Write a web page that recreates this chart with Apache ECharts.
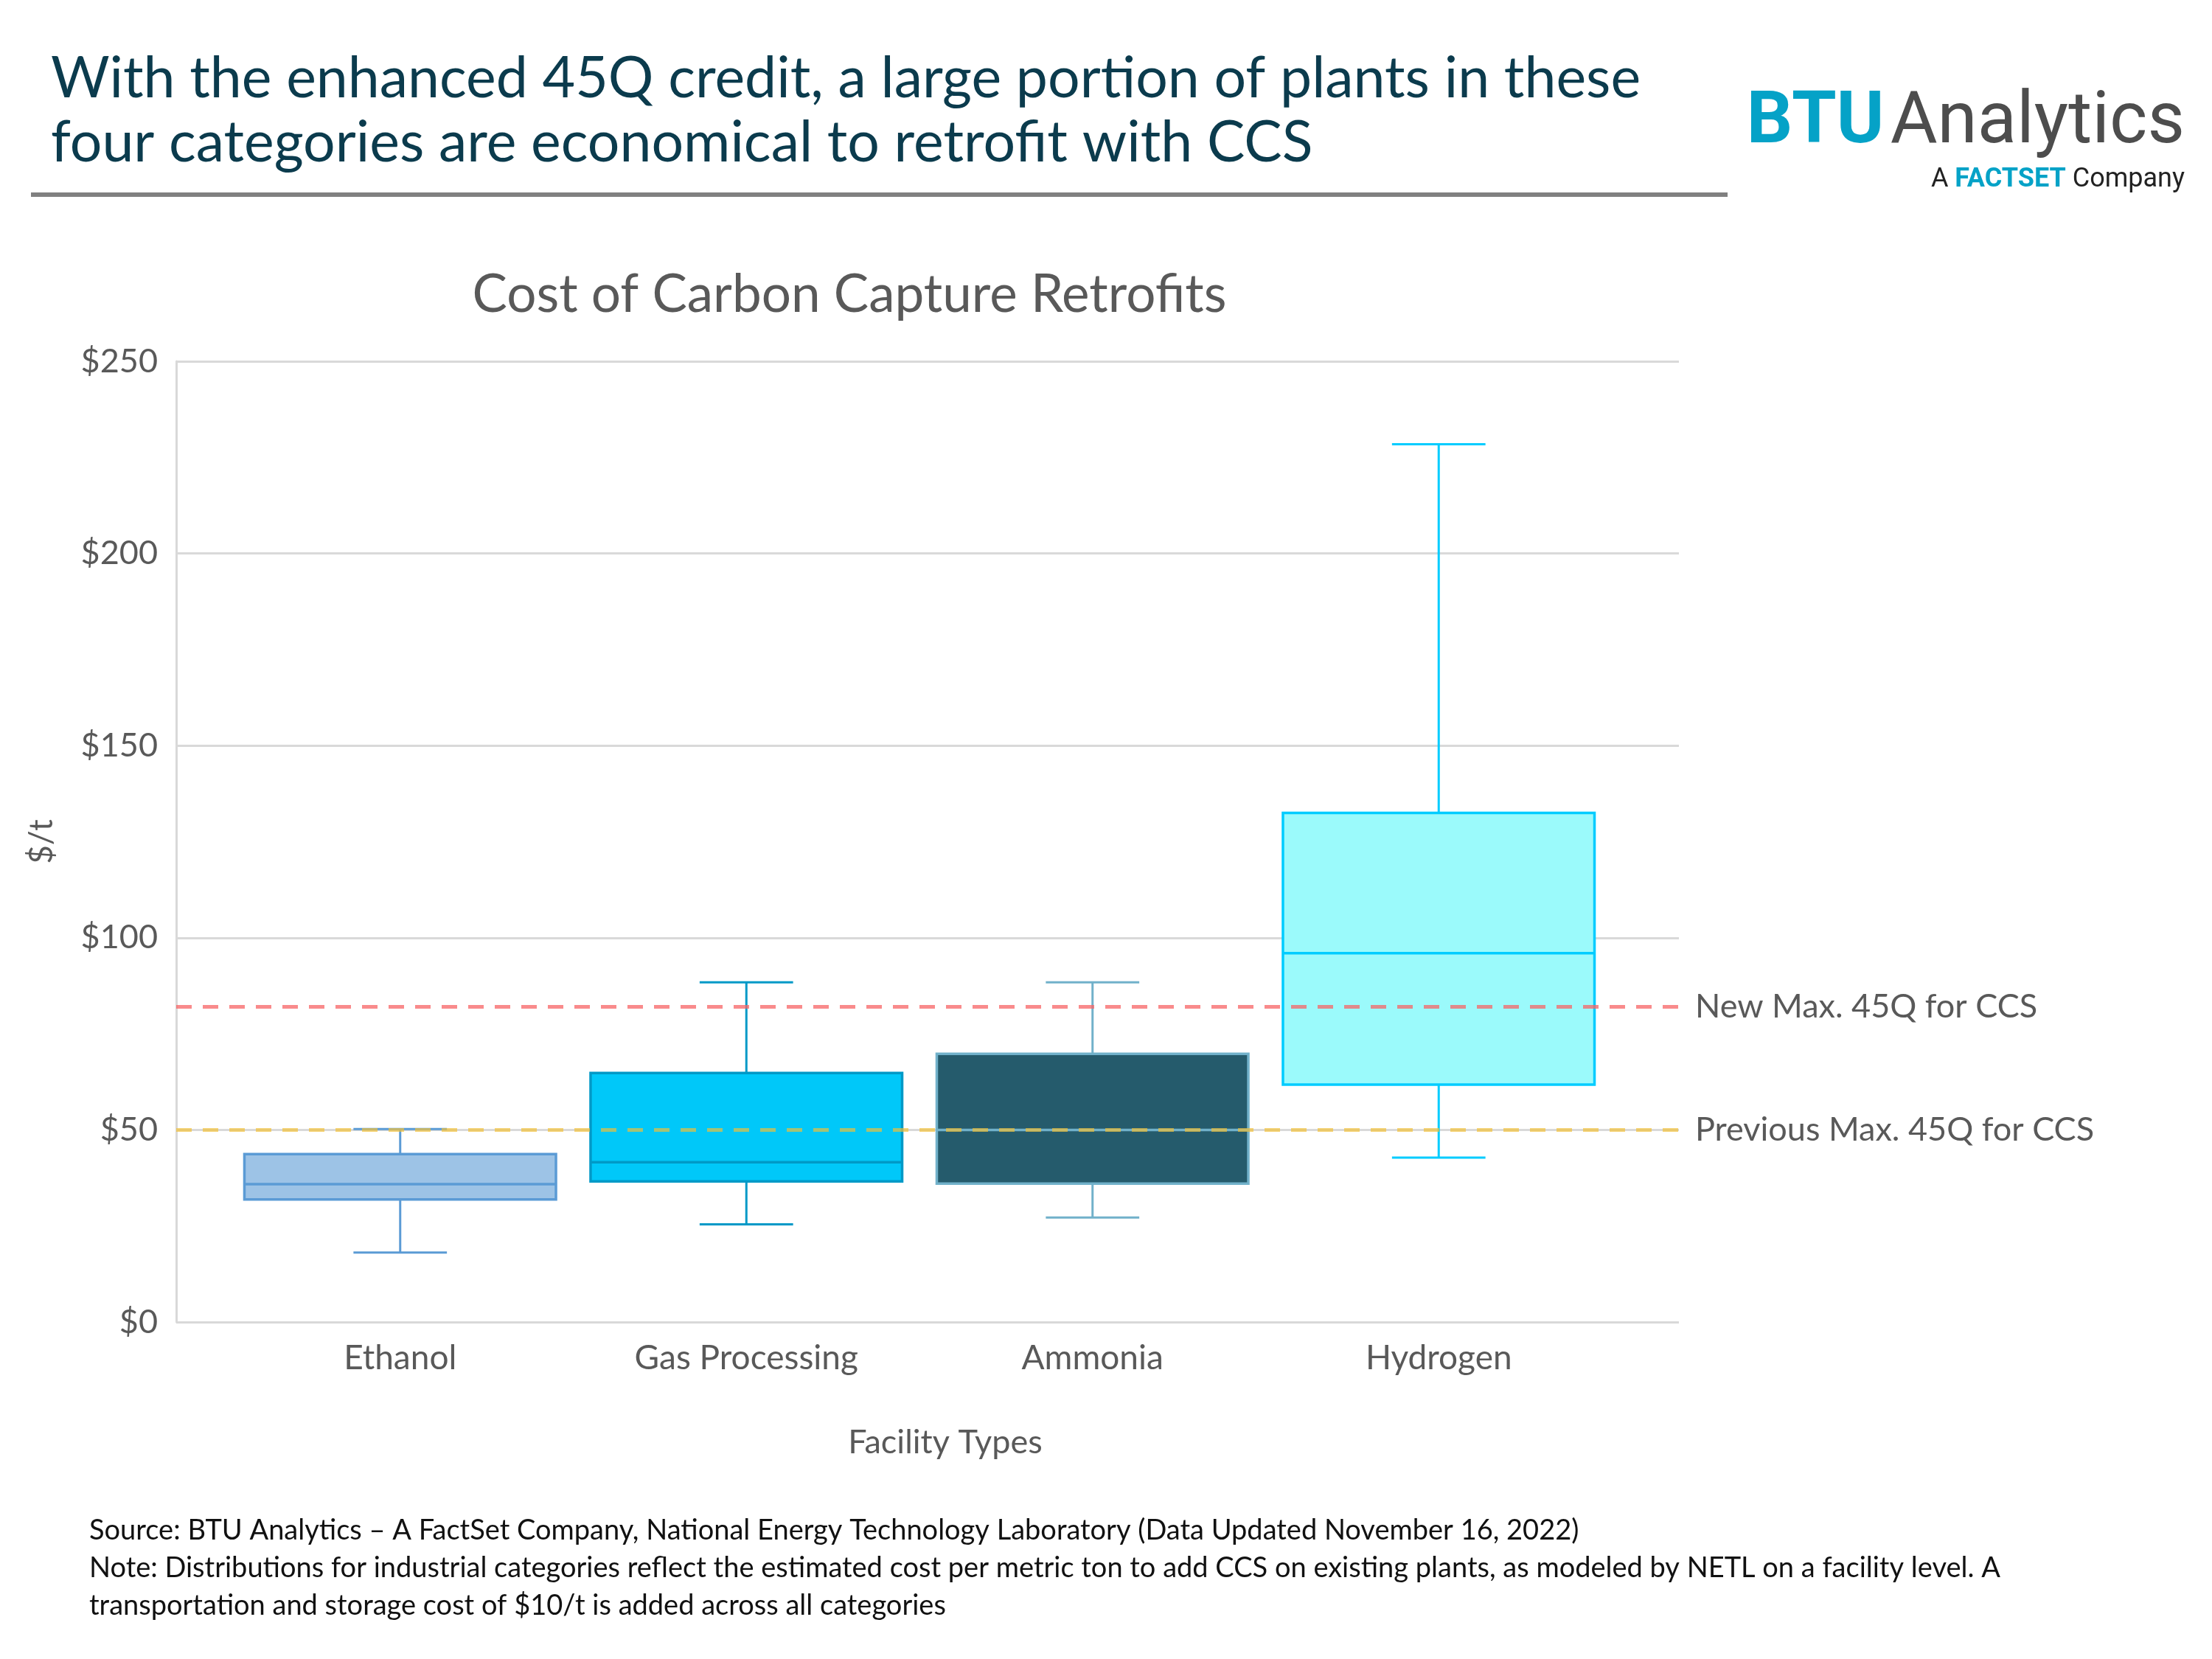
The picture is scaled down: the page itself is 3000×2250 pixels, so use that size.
<!DOCTYPE html>
<html>
<head>
<meta charset="utf-8">
<title>Cost of Carbon Capture Retrofits</title>
<script src="https://cdn.jsdelivr.net/npm/echarts@6/dist/echarts.min.js"></script>
<style>
  html, body { margin: 0; padding: 0; background: #fff; }
  #chart { width: 3000px; height: 2250px; }
</style>
</head>
<body>
<div id="chart"></div>
<script>
// facility types and the box statistics ($/t)
const categories = ['Ethanol', 'Gas Processing', 'Ammonia', 'Hydrogen'];
const mins = [18.1, 25.4, 27.2, 42.8];
const q1s = [31.9, 36.6, 36.0, 61.8];
const medians = [35.9, 41.6, 50.0, 96.0];
const q3s = [43.7, 64.8, 69.8, 132.5];
const maxs = [50.2, 88.4, 88.4, 228.4];

// 45Q reference levels
const thresholdNames = ['New Max. 45Q for CCS', 'Previous Max. 45Q for CCS'];
const thresholdValues = [82, 50];

const yMin = 0;
const yMax = 250;
const yStep = 50;

const FONT = 'Lato';
const GREY = '#595959';

// fill / border per box
const boxColors = [
  { fill: '#9dc3e6', border: '#5b9bd5' },
  { fill: '#00c8f9', border: '#0099c7' },
  { fill: '#255b6c', border: '#71b1ca' },
  { fill: '#9bfafb', border: '#00ccff' }
];
const lineColors = ['rgba(247,100,102,0.75)', 'rgba(242,192,55,0.68)'];

const boxData = categories.map((c, i) => [i, mins[i], q1s[i], medians[i], q3s[i], maxs[i]]);

function renderBox(params, api) {
  const i = api.value(0);
  const band = api.size([1, 0])[0];
  const boxW = band * 0.9;
  const capW = band * 0.27;
  const x = api.coord([i, 0])[0];
  const y = v => api.coord([i, api.value(v)])[1];
  const yLo = y(1), yQ1 = y(2), yMed = y(3), yQ3 = y(4), yHi = y(5);
  const col = boxColors[i];
  const thin = { stroke: col.border, lineWidth: 3 };
  const thick = { stroke: col.border, lineWidth: 3.5 };
  return {
    type: 'group',
    children: [
      { type: 'line', shape: { x1: x, y1: yQ3, x2: x, y2: yHi }, style: thin },
      { type: 'line', shape: { x1: x, y1: yQ1, x2: x, y2: yLo }, style: thin },
      { type: 'line', shape: { x1: x - capW / 2, y1: yHi, x2: x + capW / 2, y2: yHi }, style: thin },
      { type: 'line', shape: { x1: x - capW / 2, y1: yLo, x2: x + capW / 2, y2: yLo }, style: thin },
      { type: 'rect', shape: { x: x - boxW / 2, y: yQ3, width: boxW, height: yQ1 - yQ3 },
        style: { fill: col.fill, stroke: col.border, lineWidth: 3.5 } },
      { type: 'line', shape: { x1: x - boxW / 2, y1: yMed, x2: x + boxW / 2, y2: yMed }, style: thick }
    ]
  };
}

const chart = echarts.init(document.getElementById('chart'), null, { renderer: 'canvas' });

const option = {
  backgroundColor: '#fff',
  animation: false,
  textStyle: { fontFamily: FONT },
  title: [
    {
      text: 'With the enhanced 45Q credit, a large portion of plants in these\nfour categories are economical to retrofit with CCS',
      left: 69,
      top: 64,
      padding: 0,
      textStyle: { fontFamily: FONT, fontSize: 77, fontWeight: 'normal', color: '#0b3b4d', lineHeight: 87 }
    },
    {
      text: 'Cost of Carbon Capture Retrofits',
      left: 1152,
      textAlign: 'center',
      top: 360,
      padding: 0,
      textStyle: { fontFamily: FONT, fontSize: 71, fontWeight: 'normal', color: GREY, lineHeight: 80 }
    }
  ],
  grid: [
    { left: 239, right: 723, top: 490, bottom: 457 },
    { left: 308, right: 814, top: 490, bottom: 457 }
  ],
  xAxis: [
    {
      gridIndex: 0,
      type: 'category',
      data: categories,
      name: 'Facility Types',
      nameLocation: 'middle',
      nameGap: 141,
      nameTextStyle: { fontFamily: FONT, fontSize: 45, color: GREY, padding: [0, 0, 0, 48] },
      axisLine: { show: false },
      axisTick: { show: false },
      axisLabel: { show: false },
      splitLine: { show: false }
    },
    {
      gridIndex: 1,
      type: 'category',
      data: categories,
      axisLine: { show: false },
      axisTick: { show: false },
      axisLabel: { fontFamily: FONT, fontSize: 46, color: GREY, margin: 26 },
      splitLine: { show: false }
    }
  ],
  yAxis: [
    {
      gridIndex: 0,
      type: 'value',
      min: yMin,
      max: yMax,
      interval: yStep,
      name: '$/t',
      nameLocation: 'middle',
      nameGap: 160,
      nameRotate: 90,
      nameTextStyle: { fontFamily: FONT, fontSize: 44, color: GREY },
      axisLine: { show: true, lineStyle: { color: '#d9d9d9', width: 3 } },
      axisTick: { show: false },
      axisLabel: { fontFamily: FONT, fontSize: 45, color: GREY, margin: 25, formatter: v => '$' + v },
      splitLine: { lineStyle: { color: '#d9d9d9', width: 3 } }
    },
    {
      gridIndex: 1,
      type: 'value',
      min: yMin,
      max: yMax,
      interval: yStep,
      show: false
    }
  ],
  series: [
    {
      name: 'Retrofit cost',
      type: 'custom',
      xAxisIndex: 1,
      yAxisIndex: 1,
      z: 2,
      renderItem: renderBox,
      encode: { x: 0, y: [1, 2, 3, 4, 5] },
      data: boxData
    },
    {
      name: '45Q',
      type: 'line',
      xAxisIndex: 0,
      yAxisIndex: 0,
      z: 5,
      data: [],
      markLine: {
        silent: true,
        symbol: 'none',
        z: 5,
        data: thresholdValues.map((v, i) => ({
          yAxis: v,
          lineStyle: { color: lineColors[i], width: 5, type: [21, 15] },
          label: {
            show: true,
            position: 'end',
            distance: 22,
            formatter: thresholdNames[i],
            fontFamily: FONT,
            fontSize: 45,
            color: GREY,
            padding: [0, 0, 12, 0]
          }
        }))
      }
    }
  ],
  graphic: [
    {
      type: 'line',
      shape: { x1: 42, y1: 264, x2: 2343, y2: 264 },
      style: { stroke: '#808080', lineWidth: 6 }
    },
    {
      type: 'text',
      right: 37,
      top: 119,
      style: {
        text: '{b|BTU} {a|Analytics}',
        fontSize: 30,
        rich: {
          b: { fontFamily: 'Roboto', fontWeight: 'bold', fontSize: 98, fill: '#05a2c7' },
          a: { fontFamily: 'Roboto', fontSize: 98, fill: '#4d4d4d' }
        }
      }
    },
    {
      type: 'text',
      right: 37,
      top: 226,
      style: {
        text: '{a|A }{f|FACTSET}{a| Company}',
        rich: {
          a: { fontFamily: 'Roboto', fontSize: 36, fill: '#222' },
          f: { fontFamily: 'Roboto', fontWeight: 'bold', fontSize: 36, fill: '#05a2c7' }
        }
      }
    },
    {
      type: 'text',
      left: 121,
      top: 2050,
      style: {
        text: 'Source: BTU Analytics – A FactSet Company, National Energy Technology Laboratory (Data Updated November 16, 2022)\n' +
          'Note: Distributions for industrial categories reflect the estimated cost per metric ton to add CCS on existing plants, as modeled by NETL on a facility level. A\n' +
          'transportation and storage cost of $10/t is added across all categories',
        fontFamily: FONT,
        fontSize: 38,
        lineHeight: 51,
        fill: '#111'
      }
    }
  ]
};

chart.setOption(option);
</script>
</body>
</html>
